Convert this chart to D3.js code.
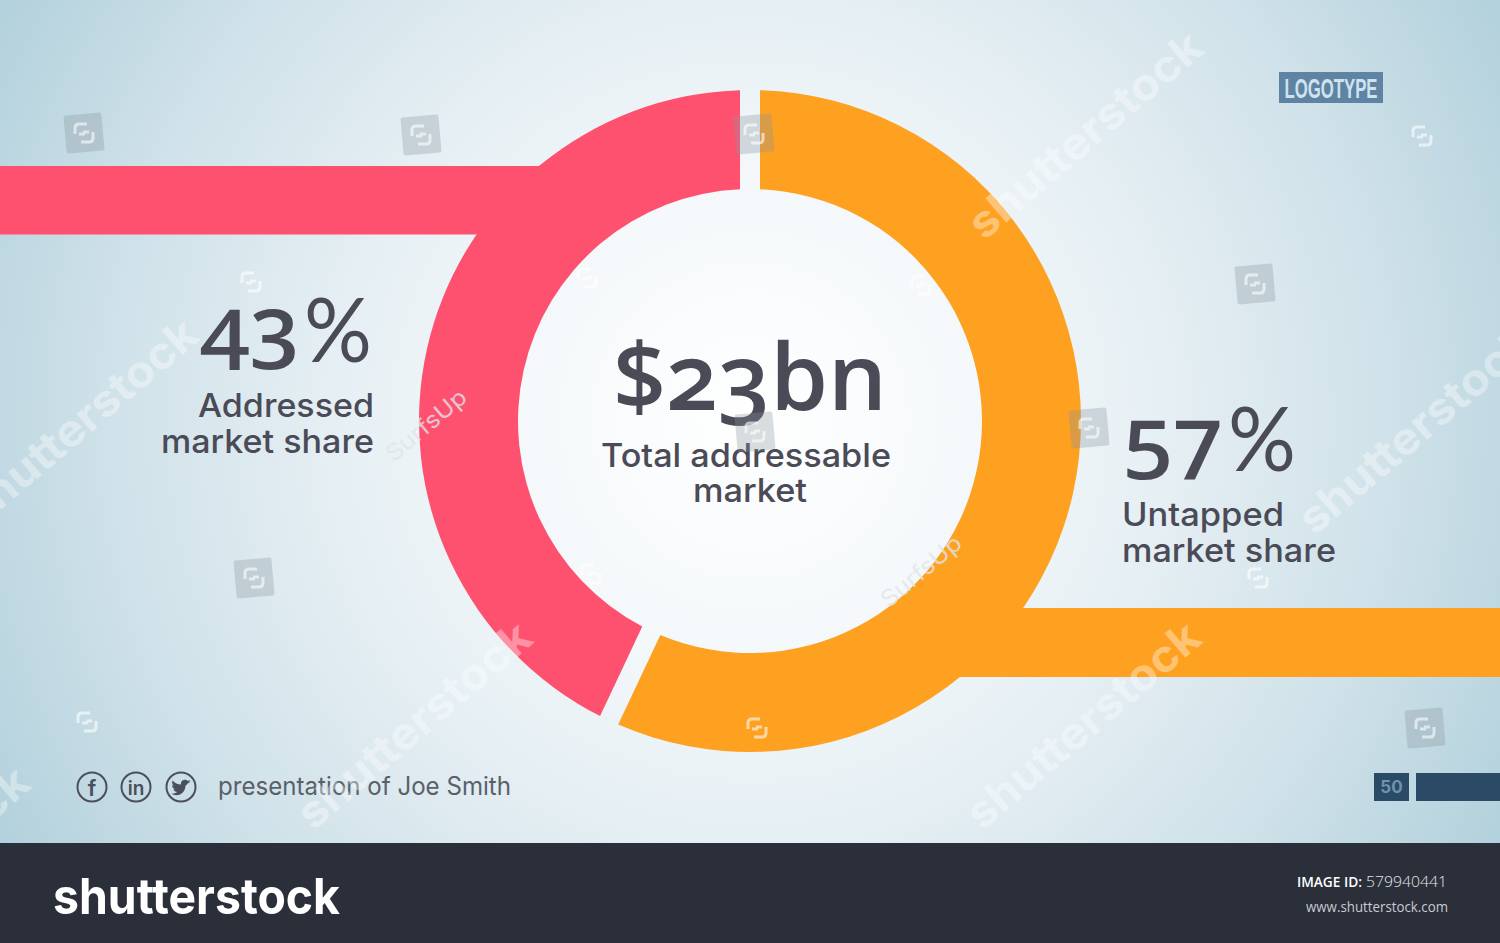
<!DOCTYPE html>
<html>
<head>
<meta charset="utf-8">
<script src="https://cdnjs.cloudflare.com/ajax/libs/d3/7.8.5/d3.min.js"></script>
<style>
html,body{margin:0;padding:0;background:#2a2f3a;overflow:hidden}
svg{display:block}
text{font-family:Inter,"Open Sans",sans-serif}
.figure{font-family:"Open Sans",Lato,sans-serif;font-variant-numeric:oldstyle-nums;font-feature-settings:"onum" 1}
.pct{font-family:Lato,"Open Sans",sans-serif}
</style>
</head>
<body>
<svg id="chart" width="1500" height="943"></svg>
<script>
// Market split shown by the ring
const segments = ["Untapped market share", "Addressed market share"];
const shares = [57, 43];
const segmentColors = ["#fea020", "#fe5170"];

const totalValue = "$23bn";
const totalCaption = ["Total addressable", "market"];
const addressedCaption = ["Addressed", "market share"];
const untappedCaption = ["Untapped", "market share"];

// Faint stamps laid across the slide: [x, y]
const wordStamps = [[1085,135],[80,422],[414,725],[1083,725],[1415,430],[-88,870]];
const tileStamps = [[84,133],[421,135],[754,134],[1255,284],[254,578],[1089,428],[755,432],[1425,728]];
const glyphStamps = [[251,282],[587,278],[921,285],[1422,136],[591,574],[1258,578],[87,722],[757,728]];
const smallWordStamps = [[426,425],[921,571]];

const width = 1500, slideH = 843, cx = 750, cy = 421;
const outerR = 331, innerR = 232, gapWidth = 20;

const svg = d3.select("#chart");
const defs = svg.append("defs");

const bg = defs.append("radialGradient").attr("id", "slideBg")
  .attr("gradientUnits", "userSpaceOnUse")
  .attr("cx", cx).attr("cy", cy).attr("r", 860);
[[0, "#ffffff"], [0.28, "#f4f8fa"], [0.5, "#e4eef3"], [0.75, "#cfe1e9"], [1, "#b2d1dc"]]
  .forEach(([o, c]) => bg.append("stop").attr("offset", o).attr("stop-color", c));

svg.append("rect").attr("width", width).attr("height", slideH).attr("fill", "url(#slideBg)");

// Horizontal bands running off the slide edges into the ring
svg.append("rect").attr("x", 0).attr("y", 166).attr("width", 600).attr("height", 68.5)
  .attr("fill", segmentColors[1]);
svg.append("rect").attr("x", 900).attr("y", 608).attr("width", 600).attr("height", 69)
  .attr("fill", segmentColors[0]);

// Ring: clockwise from twelve o'clock, with a constant-width gap between segments
const pie = d3.pie().sort(null).value(d => d);
const arc = d3.arc().innerRadius(innerR).outerRadius(outerR)
  .padRadius(outerR).padAngle(gapWidth / outerR);

svg.append("g").attr("transform", `translate(${cx},${cy})`)
  .selectAll("path").data(pie(shares)).join("path")
  .attr("d", arc)
  .attr("fill", (d, i) => segmentColors[i])
  .append("title").text((d, i) => segments[i]);

const ink = "#4b4b57";

function label(x, y, str, size, anchor, weight, fitted) {
  const t = svg.append("text").attr("x", x).attr("y", y).text(str)
    .attr("font-size", size).attr("text-anchor", anchor || "start")
    .attr("font-weight", weight || 400).attr("fill", ink);
  if (fitted) t.attr("textLength", fitted).attr("lengthAdjust", "spacingAndGlyphs");
  return t;
}

// Centre of the ring
label(750, 410, totalValue, 92, "middle", 600, 274).attr("class", "figure");
label(746, 467, totalCaption[0], 33, "middle", 500, 290);
label(750, 502, totalCaption[1], 33, "middle", 500, 114);

// Percent callouts
function callout(numX, numY, pctX, pctY, share) {
  label(numX, numY, share, 84, "start", 600, 100).attr("class", "figure");
  label(pctX, pctY, "%", 90, "start", 400, 68).attr("class", "pct");
}
callout(200, 356, 304, 362, shares[1]);
callout(1123, 466, 1228, 471, shares[0]);

label(374, 417, addressedCaption[0], 33, "end", 500, 176);
label(374, 453, addressedCaption[1], 33, "end", 500, 213);
label(1122, 526, untappedCaption[0], 33, "start", 500, 162);
label(1122, 562, untappedCaption[1], 33, "start", 500, 214);

// Logotype plate
svg.append("rect").attr("x", 1279).attr("y", 72).attr("width", 104).attr("height", 31).attr("fill", "#5f83a3");
svg.append("text").attr("x", 1331).attr("y", 98).text("LOGOTYPE")
  .attr("text-anchor", "middle").attr("font-size", 27).attr("font-weight", 700).attr("fill", "#cfe3ef")
  .attr("textLength", 93).attr("lengthAdjust", "spacingAndGlyphs")
  .style("font-family", "'Liberation Sans Narrow','Liberation Sans',sans-serif");

// Social icons and presenter line
const iconStroke = "#4a4f5b";
const icons = svg.append("g");
[92, 136, 181].forEach(x => icons.append("circle")
  .attr("cx", x).attr("cy", 787).attr("r", 14.5)
  .attr("fill", "none").attr("stroke", iconStroke).attr("stroke-width", 2));
icons.append("text").attr("x", 92).attr("y", 796).attr("text-anchor", "middle")
  .attr("font-size", 22).attr("font-weight", 600).attr("fill", iconStroke).text("f");
icons.append("text").attr("x", 136).attr("y", 795).attr("text-anchor", "middle")
  .attr("font-size", 19).attr("font-weight", 600).attr("fill", iconStroke).text("in");
icons.append("path").attr("transform", "translate(171,778)").attr("fill", iconStroke)
  .attr("d", "M20 3.6c-.7.3-1.5.5-2.3.6.8-.5 1.5-1.3 1.8-2.2-.8.5-1.7.8-2.6 1-1.6-1.7-4.2-1.7-5.8-.2-1 1-1.4 2.4-1.1 3.8C6.7 6.4 3.7 4.9 1.700 2.400.6 4.200 1.200 6.500 2.900 7.700c-.6 0-1.300-.2-1.900-.5 0 1.900 1.400 3.600 3.300 4-.6.2-1.300.2-1.900.1.500 1.600 2 2.800 3.800 2.800C4.600 15.300 2.500 16 .3 15.800c4.300 2.700 10 1.400 12.700-2.900 1-1.500 1.500-3.300 1.400-5.100.8-.6 1.500-1.300 2-2.100z");
label(218, 795, "presentation of Joe Smith", 25, "start", 400, 293).attr("fill", "#5a6069");

// Page number and progress bar
svg.append("rect").attr("x", 1374).attr("y", 773).attr("width", 35).attr("height", 28).attr("fill", "#2b4a66");
svg.append("rect").attr("x", 1416).attr("y", 773).attr("width", 84).attr("height", 28).attr("fill", "#2b4a66");
svg.append("text").attr("x", 1391.500).attr("y", 793).text("50").attr("text-anchor", "middle")
  .attr("font-size", 17).attr("font-weight", 700).attr("fill", "#6f93ae");

// Stamps
const stamps = svg.append("g").attr("pointer-events", "none");
stamps.selectAll("text.word").data(wordStamps).join("text").attr("class", "word")
  .attr("transform", d => `translate(${d[0]},${d[1]}) rotate(-40.500)`)
  .attr("text-anchor", "middle").attr("dy", "0.35em")
  .attr("font-size", 44).attr("font-weight", 700)
  .attr("textLength", 292).attr("lengthAdjust", "spacingAndGlyphs")
  .attr("fill", "#ffffff").attr("fill-opacity", 0.38).text("shutterstock");
stamps.selectAll("text.small").data(smallWordStamps).join("text").attr("class", "small")
  .attr("transform", d => `translate(${d[0]},${d[1]}) rotate(-40)`)
  .attr("text-anchor", "middle").attr("dy", "0.35em")
  .attr("font-size", 23).attr("fill", "#dfe6ea").attr("fill-opacity", 0.8)
  .attr("textLength", 98).attr("lengthAdjust", "spacingAndGlyphs").text("SurfsUp");
stamps.selectAll("rect.tile").data(tileStamps).join("rect").attr("class", "tile")
  .attr("x", d => d[0] - 19).attr("y", d => d[1] - 19).attr("width", 38).attr("height", 38).attr("rx", 2)
  .attr("transform", d => `rotate(-5 ${d[0]} ${d[1]})`)
  .attr("fill", "#8a969e").attr("fill-opacity", 0.32);
stamps.selectAll("path.glyph").data(tileStamps.concat(glyphStamps)).join("path").attr("class", "glyph")
  .attr("transform", d => `translate(${d[0]},${d[1]})`)
  .attr("d", "M-9 1V-5Q-9 -9 -5 -9H3M9 -1V5Q9 9 5 9H-3M-1 -1H5M1 1H-5")
  .attr("fill", "none").attr("stroke", "#ffffff").attr("stroke-opacity", 0.6).attr("stroke-width", 3);

// Footer strip
svg.append("rect").attr("x", 0).attr("y", slideH).attr("width", width).attr("height", 943 - slideH).attr("fill", "#2a2f3a");
svg.append("text").attr("x", 53).attr("y", 914).text("shutterstock")
  .attr("font-size", 50).attr("font-weight", 700).attr("fill", "#ffffff")
  .attr("textLength", 287).attr("lengthAdjust", "spacingAndGlyphs");
const footerFont = "'Open Sans',sans-serif";
svg.append("text").attr("x", 1297).attr("y", 887).text("IMAGE ID:")
  .attr("font-size", 15).attr("font-weight", 600).attr("fill", "#ffffff")
  .attr("textLength", 65).attr("lengthAdjust", "spacingAndGlyphs").style("font-family", footerFont);
svg.append("text").attr("x", 1366).attr("y", 887).text("579940441")
  .attr("font-size", 15).attr("fill", "#e2e4e7").attr("font-weight", 300)
  .attr("textLength", 81).attr("lengthAdjust", "spacingAndGlyphs").style("font-family", footerFont);
svg.append("text").attr("x", 1306).attr("y", 912).text("www.shutterstock.com")
  .attr("font-size", 14).attr("fill", "#c9cbd0")
  .attr("textLength", 142).attr("lengthAdjust", "spacingAndGlyphs").style("font-family", footerFont);
</script>
</body>
</html>
